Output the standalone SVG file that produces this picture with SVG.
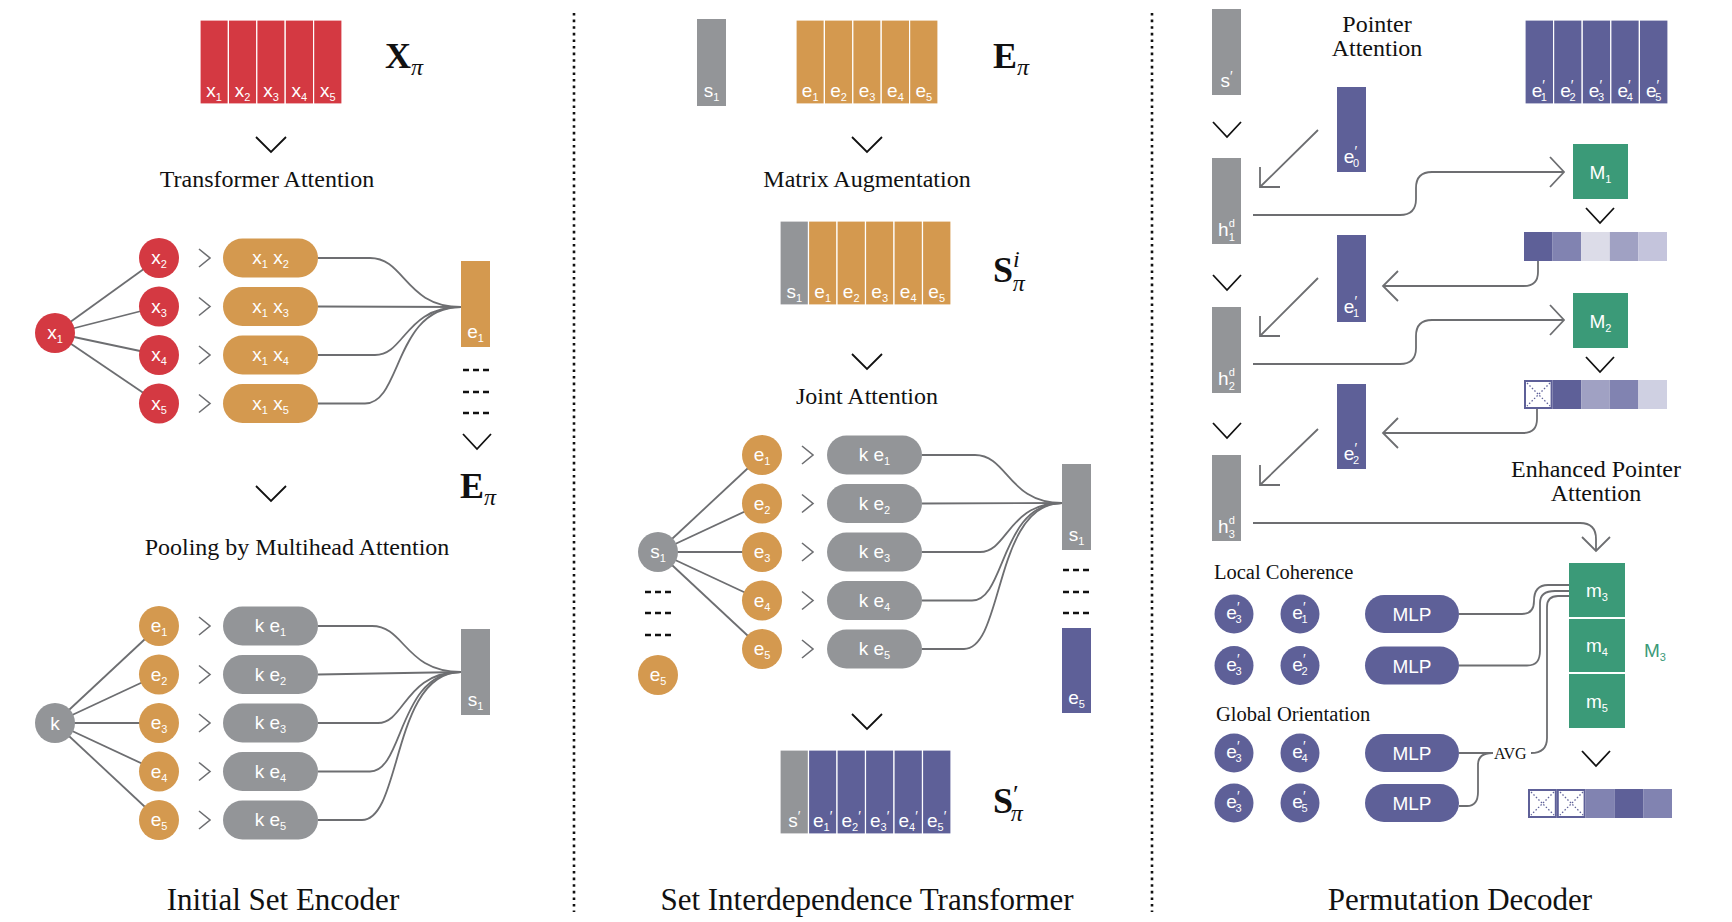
<svg xmlns="http://www.w3.org/2000/svg" width="1732" height="922" viewBox="0 0 1732 922">
<style>
.ln{fill:none;stroke:#6d6e71;stroke-width:1.8}
.chv{fill:none;stroke:#111;stroke-width:1.8}
.gch{fill:none;stroke:#6d6e71;stroke-width:1.6}
.dots{stroke:#111;stroke-width:2.6;stroke-dasharray:2.6 4}
.dash{stroke:#111;stroke-width:2.6;stroke-dasharray:6 4}
.t{font-family:"Liberation Sans",Arial,sans-serif;fill:#fff;font-size:19px;text-anchor:middle}
.s{font-size:11px}
.p{font-size:14px}
.serif{font-family:"Liberation Serif","Times New Roman",serif;fill:#111}
.ttl{font-size:24px;text-anchor:middle}
.big{font-size:31px;text-anchor:middle}
.math{font-family:"Liberation Serif","Times New Roman",serif;fill:#111;font-size:36px;font-weight:bold}
.mi{font-style:italic;font-weight:normal;font-size:24px}
.red{fill:#d43942}.org{fill:#d4994f}.gry{fill:#939598}.pur{fill:#5e6098}.grn{fill:#3b9a78}
.cell{stroke:#fff;stroke-width:1.2}
.xc{fill:#fff;stroke:#5e6098;stroke-width:2}
.xd{stroke:#5e6098;stroke-width:1.3;stroke-dasharray:1.5 2}
</style>

<!-- separators -->
<g id="separators">
<line class="dots" x1="574" y1="13" x2="574" y2="912"/>
<line class="dots" x1="1152" y1="13" x2="1152" y2="912"/>
</g>

<!-- ================= LEFT PANEL ================= -->
<g id="X-matrix">
<rect class="red cell" x="200" y="20" width="28.4" height="84"/>
<rect class="red cell" x="228.4" y="20" width="28.4" height="84"/>
<rect class="red cell" x="256.8" y="20" width="28.4" height="84"/>
<rect class="red cell" x="285.2" y="20" width="28.4" height="84"/>
<rect class="red cell" x="313.6" y="20" width="28.4" height="84"/>
<text class="t" x="214" y="97">x<tspan class="s" dy="4">1</tspan></text>
<text class="t" x="242.6" y="97">x<tspan class="s" dy="4">2</tspan></text>
<text class="t" x="271" y="97">x<tspan class="s" dy="4">3</tspan></text>
<text class="t" x="299.4" y="97">x<tspan class="s" dy="4">4</tspan></text>
<text class="t" x="327.8" y="97">x<tspan class="s" dy="4">5</tspan></text>
</g>
<text class="math" x="385" y="68">X<tspan class="mi" dy="7">π</tspan></text>
<path class="chv" d="M256,137 L271,152 L286,137"/>
<text class="serif ttl" x="267" y="187">Transformer Attention</text>

<g id="connectors-left">
<line class="ln" x1="55" y1="333" x2="159" y2="258"/>
<line class="ln" x1="55" y1="333" x2="159" y2="306.5"/>
<line class="ln" x1="55" y1="333" x2="159" y2="355"/>
<line class="ln" x1="55" y1="333" x2="159" y2="403.5"/>
<path class="ln" d="M318,258 H370 C405,258 405,307 461,307"/>
<path class="ln" d="M318,306.5 L461,307"/>
<path class="ln" d="M318,355 H375 C405,355 405,307 461,307"/>
<path class="ln" d="M318,403.5 H365 C402,403.5 394,307 461,307"/>
<line class="ln" x1="55" y1="723" x2="159" y2="626"/>
<line class="ln" x1="55" y1="723" x2="159" y2="674.5"/>
<line class="ln" x1="55" y1="723" x2="159" y2="723"/>
<line class="ln" x1="55" y1="723" x2="159" y2="771.5"/>
<line class="ln" x1="55" y1="723" x2="159" y2="820"/>
<path class="ln" d="M318,626 H372 C405,626 405,672 461,672"/>
<path class="ln" d="M318,674.5 L461,672"/>
<path class="ln" d="M318,723 H378 C405,723 405,672 461,672"/>
<path class="ln" d="M318,771.5 H370 C404,771.5 398,672 461,672"/>
<path class="ln" d="M318,820 H362 C402,820 392,672 461,672"/>
<path class="gch" d="M199,249 L210,258 L199,267 M199,297.5 L210,306.5 L199,315.5 M199,346 L210,355 L199,364 M199,394.5 L210,403.5 L199,412.5"/>
<path class="gch" d="M199,617 L210,626 L199,635 M199,665.5 L210,674.5 L199,683.5 M199,714 L210,723 L199,732 M199,762.5 L210,771.5 L199,780.5 M199,811 L210,820 L199,829"/>
</g>

<g id="node-x1"><circle class="red" cx="55" cy="333" r="20"/><text class="t" x="55" y="339">x<tspan class="s" dy="4">1</tspan></text></g>
<g id="node-x2"><circle class="red" cx="159" cy="258" r="20"/><text class="t" x="159" y="264">x<tspan class="s" dy="4">2</tspan></text></g>
<g id="node-x3"><circle class="red" cx="159" cy="306.5" r="20"/><text class="t" x="159" y="312.5">x<tspan class="s" dy="4">3</tspan></text></g>
<g id="node-x4"><circle class="red" cx="159" cy="355" r="20"/><text class="t" x="159" y="361">x<tspan class="s" dy="4">4</tspan></text></g>
<g id="node-x5"><circle class="red" cx="159" cy="403.5" r="20"/><text class="t" x="159" y="409.5">x<tspan class="s" dy="4">5</tspan></text></g>

<g id="pill-x1x2"><rect class="org" x="223" y="238.5" width="95" height="39" rx="19.5"/><text class="t" x="270.5" y="264">x<tspan class="s" dy="4">1</tspan><tspan dy="-4"> x</tspan><tspan class="s" dy="4">2</tspan></text></g>
<g id="pill-x1x3"><rect class="org" x="223" y="287" width="95" height="39" rx="19.5"/><text class="t" x="270.5" y="312.5">x<tspan class="s" dy="4">1</tspan><tspan dy="-4"> x</tspan><tspan class="s" dy="4">3</tspan></text></g>
<g id="pill-x1x4"><rect class="org" x="223" y="335.5" width="95" height="39" rx="19.5"/><text class="t" x="270.5" y="361">x<tspan class="s" dy="4">1</tspan><tspan dy="-4"> x</tspan><tspan class="s" dy="4">4</tspan></text></g>
<g id="pill-x1x5"><rect class="org" x="223" y="384" width="95" height="39" rx="19.5"/><text class="t" x="270.5" y="409.5">x<tspan class="s" dy="4">1</tspan><tspan dy="-4"> x</tspan><tspan class="s" dy="4">5</tspan></text></g>

<g id="bar-e1"><rect class="org" x="461" y="261" width="29" height="86"/><text class="t" x="475.5" y="338">e<tspan class="s" dy="4">1</tspan></text></g>
<line class="dash" x1="463" y1="370" x2="489" y2="370"/>
<line class="dash" x1="463" y1="392" x2="489" y2="392"/>
<line class="dash" x1="463" y1="413" x2="489" y2="413"/>
<path class="chv" d="M463,434 L477,449 L491,434"/>
<text class="math" x="460" y="498">E<tspan class="mi" dy="7">π</tspan></text>

<path class="chv" d="M256,486 L271,501 L286,486"/>
<text class="serif ttl" x="297" y="555">Pooling by Multihead Attention</text>

<g id="node-k"><circle class="gry" cx="55" cy="723" r="20"/><text class="t" x="55" y="730">k</text></g>
<g id="node-e1a"><circle class="org" cx="159" cy="626" r="20"/><text class="t" x="159" y="632">e<tspan class="s" dy="4">1</tspan></text></g>
<g id="node-e2a"><circle class="org" cx="159" cy="674.5" r="20"/><text class="t" x="159" y="680.5">e<tspan class="s" dy="4">2</tspan></text></g>
<g id="node-e3a"><circle class="org" cx="159" cy="723" r="20"/><text class="t" x="159" y="729">e<tspan class="s" dy="4">3</tspan></text></g>
<g id="node-e4a"><circle class="org" cx="159" cy="771.5" r="20"/><text class="t" x="159" y="777.5">e<tspan class="s" dy="4">4</tspan></text></g>
<g id="node-e5a"><circle class="org" cx="159" cy="820" r="20"/><text class="t" x="159" y="826">e<tspan class="s" dy="4">5</tspan></text></g>

<g id="pill-ke1a"><rect class="gry" x="223" y="606.5" width="95" height="39" rx="19.5"/><text class="t" x="270.5" y="632">k e<tspan class="s" dy="4">1</tspan></text></g>
<g id="pill-ke2a"><rect class="gry" x="223" y="655" width="95" height="39" rx="19.5"/><text class="t" x="270.5" y="680.5">k e<tspan class="s" dy="4">2</tspan></text></g>
<g id="pill-ke3a"><rect class="gry" x="223" y="703.5" width="95" height="39" rx="19.5"/><text class="t" x="270.5" y="729">k e<tspan class="s" dy="4">3</tspan></text></g>
<g id="pill-ke4a"><rect class="gry" x="223" y="752" width="95" height="39" rx="19.5"/><text class="t" x="270.5" y="777.5">k e<tspan class="s" dy="4">4</tspan></text></g>
<g id="pill-ke5a"><rect class="gry" x="223" y="800.5" width="95" height="39" rx="19.5"/><text class="t" x="270.5" y="826">k e<tspan class="s" dy="4">5</tspan></text></g>

<g id="bar-s1a"><rect class="gry" x="461" y="629" width="29" height="86"/><text class="t" x="475.5" y="706">s<tspan class="s" dy="4">1</tspan></text></g>

<text class="serif big" x="283" y="910">Initial Set Encoder</text>

<!-- ================= MIDDLE PANEL ================= -->
<g id="bar-s1-top"><rect class="gry" x="697" y="19" width="29" height="87"/><text class="t" x="711.5" y="97">s<tspan class="s" dy="4">1</tspan></text></g>
<g id="E-matrix">
<rect class="org cell" x="796" y="20" width="28.4" height="84"/>
<rect class="org cell" x="824.4" y="20" width="28.4" height="84"/>
<rect class="org cell" x="852.8" y="20" width="28.4" height="84"/>
<rect class="org cell" x="881.2" y="20" width="28.4" height="84"/>
<rect class="org cell" x="909.6" y="20" width="28.4" height="84"/>
<text class="t" x="810.2" y="97">e<tspan class="s" dy="4">1</tspan></text>
<text class="t" x="838.6" y="97">e<tspan class="s" dy="4">2</tspan></text>
<text class="t" x="867" y="97">e<tspan class="s" dy="4">3</tspan></text>
<text class="t" x="895.4" y="97">e<tspan class="s" dy="4">4</tspan></text>
<text class="t" x="923.8" y="97">e<tspan class="s" dy="4">5</tspan></text>
</g>
<text class="math" x="993" y="68">E<tspan class="mi" dy="7">π</tspan></text>
<path class="chv" d="M852,137 L867,152 L882,137"/>
<text class="serif ttl" x="867" y="187">Matrix Augmentation</text>

<g id="Si-matrix">
<rect class="gry cell" x="780" y="221" width="28.5" height="84"/>
<rect class="org cell" x="808.5" y="221" width="28.5" height="84"/>
<rect class="org cell" x="837" y="221" width="28.5" height="84"/>
<rect class="org cell" x="865.5" y="221" width="28.5" height="84"/>
<rect class="org cell" x="894" y="221" width="28.5" height="84"/>
<rect class="org cell" x="922.5" y="221" width="28.5" height="84"/>
<text class="t" x="794.2" y="298">s<tspan class="s" dy="4">1</tspan></text>
<text class="t" x="822.7" y="298">e<tspan class="s" dy="4">1</tspan></text>
<text class="t" x="851.2" y="298">e<tspan class="s" dy="4">2</tspan></text>
<text class="t" x="879.7" y="298">e<tspan class="s" dy="4">3</tspan></text>
<text class="t" x="908.2" y="298">e<tspan class="s" dy="4">4</tspan></text>
<text class="t" x="936.7" y="298">e<tspan class="s" dy="4">5</tspan></text>
</g>
<text class="math" x="993" y="282">S<tspan class="mi" font-size="22" dy="-15">i</tspan><tspan class="mi" dx="-7" dy="24">π</tspan></text>
<path class="chv" d="M852,354 L867,369 L882,354"/>
<text class="serif ttl" x="867" y="404">Joint Attention</text>

<g id="connectors-mid">
<line class="ln" x1="658" y1="552" x2="762" y2="455"/>
<line class="ln" x1="658" y1="552" x2="762" y2="503.5"/>
<line class="ln" x1="658" y1="552" x2="762" y2="552"/>
<line class="ln" x1="658" y1="552" x2="762" y2="600.5"/>
<line class="ln" x1="658" y1="552" x2="762" y2="649"/>
<path class="ln" d="M922,455 H975 C1008,455 1008,503 1062,503"/>
<path class="ln" d="M922,503.5 L1062,503"/>
<path class="ln" d="M922,552 H980 C1008,552 1008,503 1062,503"/>
<path class="ln" d="M922,600.5 H972 C1006,600.5 1000,503 1062,503"/>
<path class="ln" d="M922,649 H964 C1004,649 994,503 1062,503"/>
<path class="gch" d="M802,446 L813,455 L802,464 M802,494.5 L813,503.5 L802,512.5 M802,543 L813,552 L802,561 M802,591.5 L813,600.5 L802,609.5 M802,640 L813,649 L802,658"/>
</g>

<g id="node-s1"><circle class="gry" cx="658" cy="552" r="20"/><text class="t" x="658" y="558">s<tspan class="s" dy="4">1</tspan></text></g>
<line class="dash" x1="645" y1="592" x2="671" y2="592"/>
<line class="dash" x1="645" y1="613" x2="671" y2="613"/>
<line class="dash" x1="645" y1="635" x2="671" y2="635"/>
<g id="node-e5-extra"><circle class="org" cx="658" cy="675" r="20"/><text class="t" x="658" y="681">e<tspan class="s" dy="4">5</tspan></text></g>

<g id="node-e1b"><circle class="org" cx="762" cy="455" r="20"/><text class="t" x="762" y="461">e<tspan class="s" dy="4">1</tspan></text></g>
<g id="node-e2b"><circle class="org" cx="762" cy="503.5" r="20"/><text class="t" x="762" y="509.5">e<tspan class="s" dy="4">2</tspan></text></g>
<g id="node-e3b"><circle class="org" cx="762" cy="552" r="20"/><text class="t" x="762" y="558">e<tspan class="s" dy="4">3</tspan></text></g>
<g id="node-e4b"><circle class="org" cx="762" cy="600.5" r="20"/><text class="t" x="762" y="606.5">e<tspan class="s" dy="4">4</tspan></text></g>
<g id="node-e5b"><circle class="org" cx="762" cy="649" r="20"/><text class="t" x="762" y="655">e<tspan class="s" dy="4">5</tspan></text></g>

<g id="pill-ke1b"><rect class="gry" x="827" y="435.5" width="95" height="39" rx="19.5"/><text class="t" x="874.5" y="461">k e<tspan class="s" dy="4">1</tspan></text></g>
<g id="pill-ke2b"><rect class="gry" x="827" y="484" width="95" height="39" rx="19.5"/><text class="t" x="874.5" y="509.5">k e<tspan class="s" dy="4">2</tspan></text></g>
<g id="pill-ke3b"><rect class="gry" x="827" y="532.5" width="95" height="39" rx="19.5"/><text class="t" x="874.5" y="558">k e<tspan class="s" dy="4">3</tspan></text></g>
<g id="pill-ke4b"><rect class="gry" x="827" y="581" width="95" height="39" rx="19.5"/><text class="t" x="874.5" y="606.5">k e<tspan class="s" dy="4">4</tspan></text></g>
<g id="pill-ke5b"><rect class="gry" x="827" y="629.5" width="95" height="39" rx="19.5"/><text class="t" x="874.5" y="655">k e<tspan class="s" dy="4">5</tspan></text></g>

<g id="bar-s1b"><rect class="gry" x="1062" y="464" width="29" height="86"/><text class="t" x="1076.5" y="541">s<tspan class="s" dy="4">1</tspan></text></g>
<line class="dash" x1="1063" y1="570" x2="1089" y2="570"/>
<line class="dash" x1="1063" y1="592" x2="1089" y2="592"/>
<line class="dash" x1="1063" y1="613" x2="1089" y2="613"/>
<g id="bar-e5b"><rect class="pur" x="1062" y="628" width="29" height="85"/><text class="t" x="1076.5" y="704">e<tspan class="s" dy="4">5</tspan></text></g>

<path class="chv" d="M852,714 L867,729 L882,714"/>
<g id="Sp-matrix">
<rect class="gry cell" x="780" y="750" width="28.5" height="84"/>
<rect class="pur cell" x="808.5" y="750" width="28.5" height="84"/>
<rect class="pur cell" x="837" y="750" width="28.5" height="84"/>
<rect class="pur cell" x="865.5" y="750" width="28.5" height="84"/>
<rect class="pur cell" x="894" y="750" width="28.5" height="84"/>
<rect class="pur cell" x="922.5" y="750" width="28.5" height="84"/>
<text class="t" x="794.2" y="827">s<tspan class="p" dy="-6">′</tspan></text>
<text class="t" x="822.7" y="827">e<tspan class="s" dy="4">1</tspan><tspan class="p" dy="-10">′</tspan></text>
<text class="t" x="851.2" y="827">e<tspan class="s" dy="4">2</tspan><tspan class="p" dy="-10">′</tspan></text>
<text class="t" x="879.7" y="827">e<tspan class="s" dy="4">3</tspan><tspan class="p" dy="-10">′</tspan></text>
<text class="t" x="908.2" y="827">e<tspan class="s" dy="4">4</tspan><tspan class="p" dy="-10">′</tspan></text>
<text class="t" x="936.7" y="827">e<tspan class="s" dy="4">5</tspan><tspan class="p" dy="-10">′</tspan></text>
</g>
<text class="math" x="993" y="813">S<tspan font-weight="normal" font-size="26" dy="-10">′</tspan><tspan class="mi" dx="-8" dy="18">π</tspan></text>

<text class="serif big" x="867" y="910">Set Interdependence Transformer</text>

<!-- ================= RIGHT PANEL ================= -->
<g id="connectors-right">
<path class="ln" d="M1318,130 L1260,187 M1260,167 L1260,187 L1280,187"/>
<path class="ln" d="M1318,278 L1260,336 M1260,316 L1260,336 L1280,336"/>
<path class="ln" d="M1318,429 L1260,485 M1260,465 L1260,485 L1280,485"/>
<path class="ln" d="M1253,215 H1400 Q1416,215 1416,199 V188 Q1416,172 1432,172 H1564 M1550,157 L1564,172 L1550,187"/>
<path class="ln" d="M1253,364 H1400 Q1416,364 1416,348 V336 Q1416,320 1432,320 H1564 M1550,305 L1564,320 L1550,335"/>
<path class="ln" d="M1538,261 V272 Q1538,286 1524,286 H1383 M1398,271 L1383,286 L1398,301"/>
<path class="ln" d="M1537,409 V419 Q1537,433 1523,433 H1383 M1398,418 L1383,433 L1398,448"/>
<path class="ln" d="M1253,523 H1580 Q1596,523 1596,539 V551 M1582,537 L1596,551 L1610,537"/>
<path class="ln" d="M1459,614 H1522 C1531,614 1534,609 1534,601 C1534,591 1538,585 1548,585 H1569"/>
<path class="ln" d="M1459,665.5 H1527 C1537,665.5 1540,660 1540,650 V603 C1540,595 1545,591 1555,591 H1569"/>
<path class="ln" d="M1531,753 C1542,753 1547,748 1547,738 V607 C1547,600 1551,596 1558,596 H1569"/>
<path class="ln" d="M1459,753 H1493"/>
<path class="ln" d="M1459,806 H1467 C1475,806 1478,800 1478,792 V765 C1478,757 1482,753 1492,753"/>
</g>

<g id="bar-sp"><rect class="gry" x="1212" y="9" width="29" height="86"/><text class="t" x="1226.5" y="87">s<tspan class="p" dy="-6">′</tspan></text></g>
<text class="serif ttl" x="1377" y="32">Pointer</text>
<text class="serif ttl" x="1377" y="56">Attention</text>

<g id="Ep-matrix">
<rect class="pur cell" x="1525" y="20" width="28.6" height="84"/>
<rect class="pur cell" x="1553.6" y="20" width="28.6" height="84"/>
<rect class="pur cell" x="1582.2" y="20" width="28.6" height="84"/>
<rect class="pur cell" x="1610.8" y="20" width="28.6" height="84"/>
<rect class="pur cell" x="1639.4" y="20" width="28.6" height="84"/>
<text class="t" x="1539.3" y="97">e<tspan class="p" dy="-7">′</tspan><tspan class="s" dx="-4" dy="11">1</tspan></text>
<text class="t" x="1567.9" y="97">e<tspan class="p" dy="-7">′</tspan><tspan class="s" dx="-4" dy="11">2</tspan></text>
<text class="t" x="1596.5" y="97">e<tspan class="p" dy="-7">′</tspan><tspan class="s" dx="-4" dy="11">3</tspan></text>
<text class="t" x="1625.1" y="97">e<tspan class="p" dy="-7">′</tspan><tspan class="s" dx="-4" dy="11">4</tspan></text>
<text class="t" x="1653.7" y="97">e<tspan class="p" dy="-7">′</tspan><tspan class="s" dx="-4" dy="11">5</tspan></text>
</g>

<g id="bar-e0p"><rect class="pur" x="1337" y="87" width="29" height="85"/><text class="t" x="1351.5" y="163">e<tspan class="p" dy="-7">′</tspan><tspan class="s" dx="-4" dy="11">0</tspan></text></g>
<g id="bar-e1p"><rect class="pur" x="1337" y="235" width="29" height="87"/><text class="t" x="1351.5" y="313">e<tspan class="p" dy="-7">′</tspan><tspan class="s" dx="-4" dy="11">1</tspan></text></g>
<g id="bar-e2p"><rect class="pur" x="1337" y="384" width="29" height="85"/><text class="t" x="1351.5" y="460">e<tspan class="p" dy="-7">′</tspan><tspan class="s" dx="-4" dy="11">2</tspan></text></g>

<path class="chv" d="M1213,122 L1227,137 L1241,122"/>
<path class="chv" d="M1213,275 L1227,290 L1241,275"/>
<path class="chv" d="M1213,423 L1227,438 L1241,423"/>

<g id="bar-h1"><rect class="gry" x="1212" y="158" width="29" height="86"/><text class="t" x="1226.5" y="236">h<tspan class="s" dy="-9">d</tspan><tspan class="s" dx="-6" dy="14">1</tspan></text></g>
<g id="bar-h2"><rect class="gry" x="1212" y="307" width="29" height="86"/><text class="t" x="1226.5" y="385">h<tspan class="s" dy="-9">d</tspan><tspan class="s" dx="-6" dy="14">2</tspan></text></g>
<g id="bar-h3"><rect class="gry" x="1212" y="455" width="29" height="86"/><text class="t" x="1226.5" y="533">h<tspan class="s" dy="-9">d</tspan><tspan class="s" dx="-6" dy="14">3</tspan></text></g>

<g id="node-M1"><rect class="grn" x="1573" y="144" width="55" height="55"/><text class="t" x="1600.5" y="179" font-size="20">M<tspan class="s" dy="4">1</tspan></text></g>
<g id="node-M2"><rect class="grn" x="1573" y="293" width="55" height="55"/><text class="t" x="1600.5" y="328" font-size="20">M<tspan class="s" dy="4">2</tspan></text></g>
<path class="chv" d="M1586,208 L1600,223 L1614,208"/>
<path class="chv" d="M1586,357 L1600,372 L1614,357"/>

<g id="attn-row1">
<rect x="1524" y="232" width="28.6" height="29" fill="#5e6098"/>
<rect x="1552.6" y="232" width="28.6" height="29" fill="#8183b1"/>
<rect x="1581.2" y="232" width="28.6" height="29" fill="#dcdce8"/>
<rect x="1609.8" y="232" width="28.6" height="29" fill="#a0a1c3"/>
<rect x="1638.4" y="232" width="28.6" height="29" fill="#c4c4dc"/>
</g>
<g id="attn-row2">
<rect class="xc" x="1525" y="381" width="26.6" height="27"/>
<path class="xd" d="M1527,383 L1550,406 M1550,383 L1527,406"/>
<rect x="1552.6" y="380" width="28.6" height="29" fill="#5e6098"/>
<rect x="1581.2" y="380" width="28.6" height="29" fill="#a0a1c3"/>
<rect x="1609.8" y="380" width="28.6" height="29" fill="#8183b1"/>
<rect x="1638.4" y="380" width="28.6" height="29" fill="#cfd0e2"/>
</g>

<text class="serif ttl" x="1596" y="477">Enhanced Pointer</text>
<text class="serif ttl" x="1596" y="501">Attention</text>

<g id="node-M3">
<rect class="grn" x="1569" y="563" width="56" height="54"/>
<rect class="grn" x="1569" y="619" width="56" height="53"/>
<rect class="grn" x="1569" y="674" width="56" height="54"/>
<text class="t" x="1597" y="597" font-size="20">m<tspan class="s" dy="4">3</tspan></text>
<text class="t" x="1597" y="652" font-size="20">m<tspan class="s" dy="4">4</tspan></text>
<text class="t" x="1597" y="708" font-size="20">m<tspan class="s" dy="4">5</tspan></text>
<text class="t" x="1655" y="657" font-size="20" style="fill:#3b9a78">M<tspan class="s" dy="4">3</tspan></text>
</g>

<text class="serif" x="1214" y="579" font-size="20.5">Local Coherence</text>
<text class="serif" x="1216" y="721" font-size="20.5">Global Orientation</text>

<g id="node-lc1a"><circle class="pur" cx="1234" cy="614" r="19.5"/><text class="t" x="1234" y="619">e<tspan class="p" dy="-7">′</tspan><tspan class="s" dx="-4" dy="11">3</tspan></text></g>
<g id="node-lc1b"><circle class="pur" cx="1300" cy="614" r="19.5"/><text class="t" x="1300" y="619">e<tspan class="p" dy="-7">′</tspan><tspan class="s" dx="-4" dy="11">1</tspan></text></g>
<g id="node-lc2a"><circle class="pur" cx="1234" cy="665.5" r="19.5"/><text class="t" x="1234" y="670.5">e<tspan class="p" dy="-7">′</tspan><tspan class="s" dx="-4" dy="11">3</tspan></text></g>
<g id="node-lc2b"><circle class="pur" cx="1300" cy="665.5" r="19.5"/><text class="t" x="1300" y="670.5">e<tspan class="p" dy="-7">′</tspan><tspan class="s" dx="-4" dy="11">2</tspan></text></g>
<g id="node-go1a"><circle class="pur" cx="1234" cy="753" r="19.5"/><text class="t" x="1234" y="758">e<tspan class="p" dy="-7">′</tspan><tspan class="s" dx="-4" dy="11">3</tspan></text></g>
<g id="node-go1b"><circle class="pur" cx="1300" cy="753" r="19.5"/><text class="t" x="1300" y="758">e<tspan class="p" dy="-7">′</tspan><tspan class="s" dx="-4" dy="11">4</tspan></text></g>
<g id="node-go2a"><circle class="pur" cx="1234" cy="803" r="19.5"/><text class="t" x="1234" y="808">e<tspan class="p" dy="-7">′</tspan><tspan class="s" dx="-4" dy="11">3</tspan></text></g>
<g id="node-go2b"><circle class="pur" cx="1300" cy="803" r="19.5"/><text class="t" x="1300" y="808">e<tspan class="p" dy="-7">′</tspan><tspan class="s" dx="-4" dy="11">5</tspan></text></g>

<g id="mlp1"><rect class="pur" x="1365" y="595" width="94" height="38" rx="19"/><text class="t" x="1412" y="621" font-size="20">MLP</text></g>
<g id="mlp2"><rect class="pur" x="1365" y="646.5" width="94" height="38" rx="19"/><text class="t" x="1412" y="672.5" font-size="20">MLP</text></g>
<g id="mlp3"><rect class="pur" x="1365" y="734" width="94" height="38" rx="19"/><text class="t" x="1412" y="760" font-size="20">MLP</text></g>
<g id="mlp4"><rect class="pur" x="1365" y="784" width="94" height="38" rx="19"/><text class="t" x="1412" y="810" font-size="20">MLP</text></g>

<g id="avg"><rect x="1493" y="742" width="37" height="20" fill="#fff"/><text class="serif" x="1494" y="759" font-size="16">AVG</text></g>

<path class="chv" d="M1582,751 L1596,766 L1610,751"/>
<g id="attn-row3">
<rect class="xc" x="1529" y="790" width="26.8" height="27"/>
<path class="xd" d="M1531,792 L1554,815 M1554,792 L1531,815"/>
<rect class="xc" x="1557.8" y="790" width="26.8" height="27"/>
<path class="xd" d="M1560,792 L1583,815 M1583,792 L1560,815"/>
<rect x="1585.6" y="789" width="28.8" height="29" fill="#8183b1"/>
<rect x="1614.4" y="789" width="28.8" height="29" fill="#5e6098"/>
<rect x="1643.2" y="789" width="28.8" height="29" fill="#8183b1"/>
</g>

<text class="serif big" x="1460" y="910">Permutation Decoder</text>
</svg>
